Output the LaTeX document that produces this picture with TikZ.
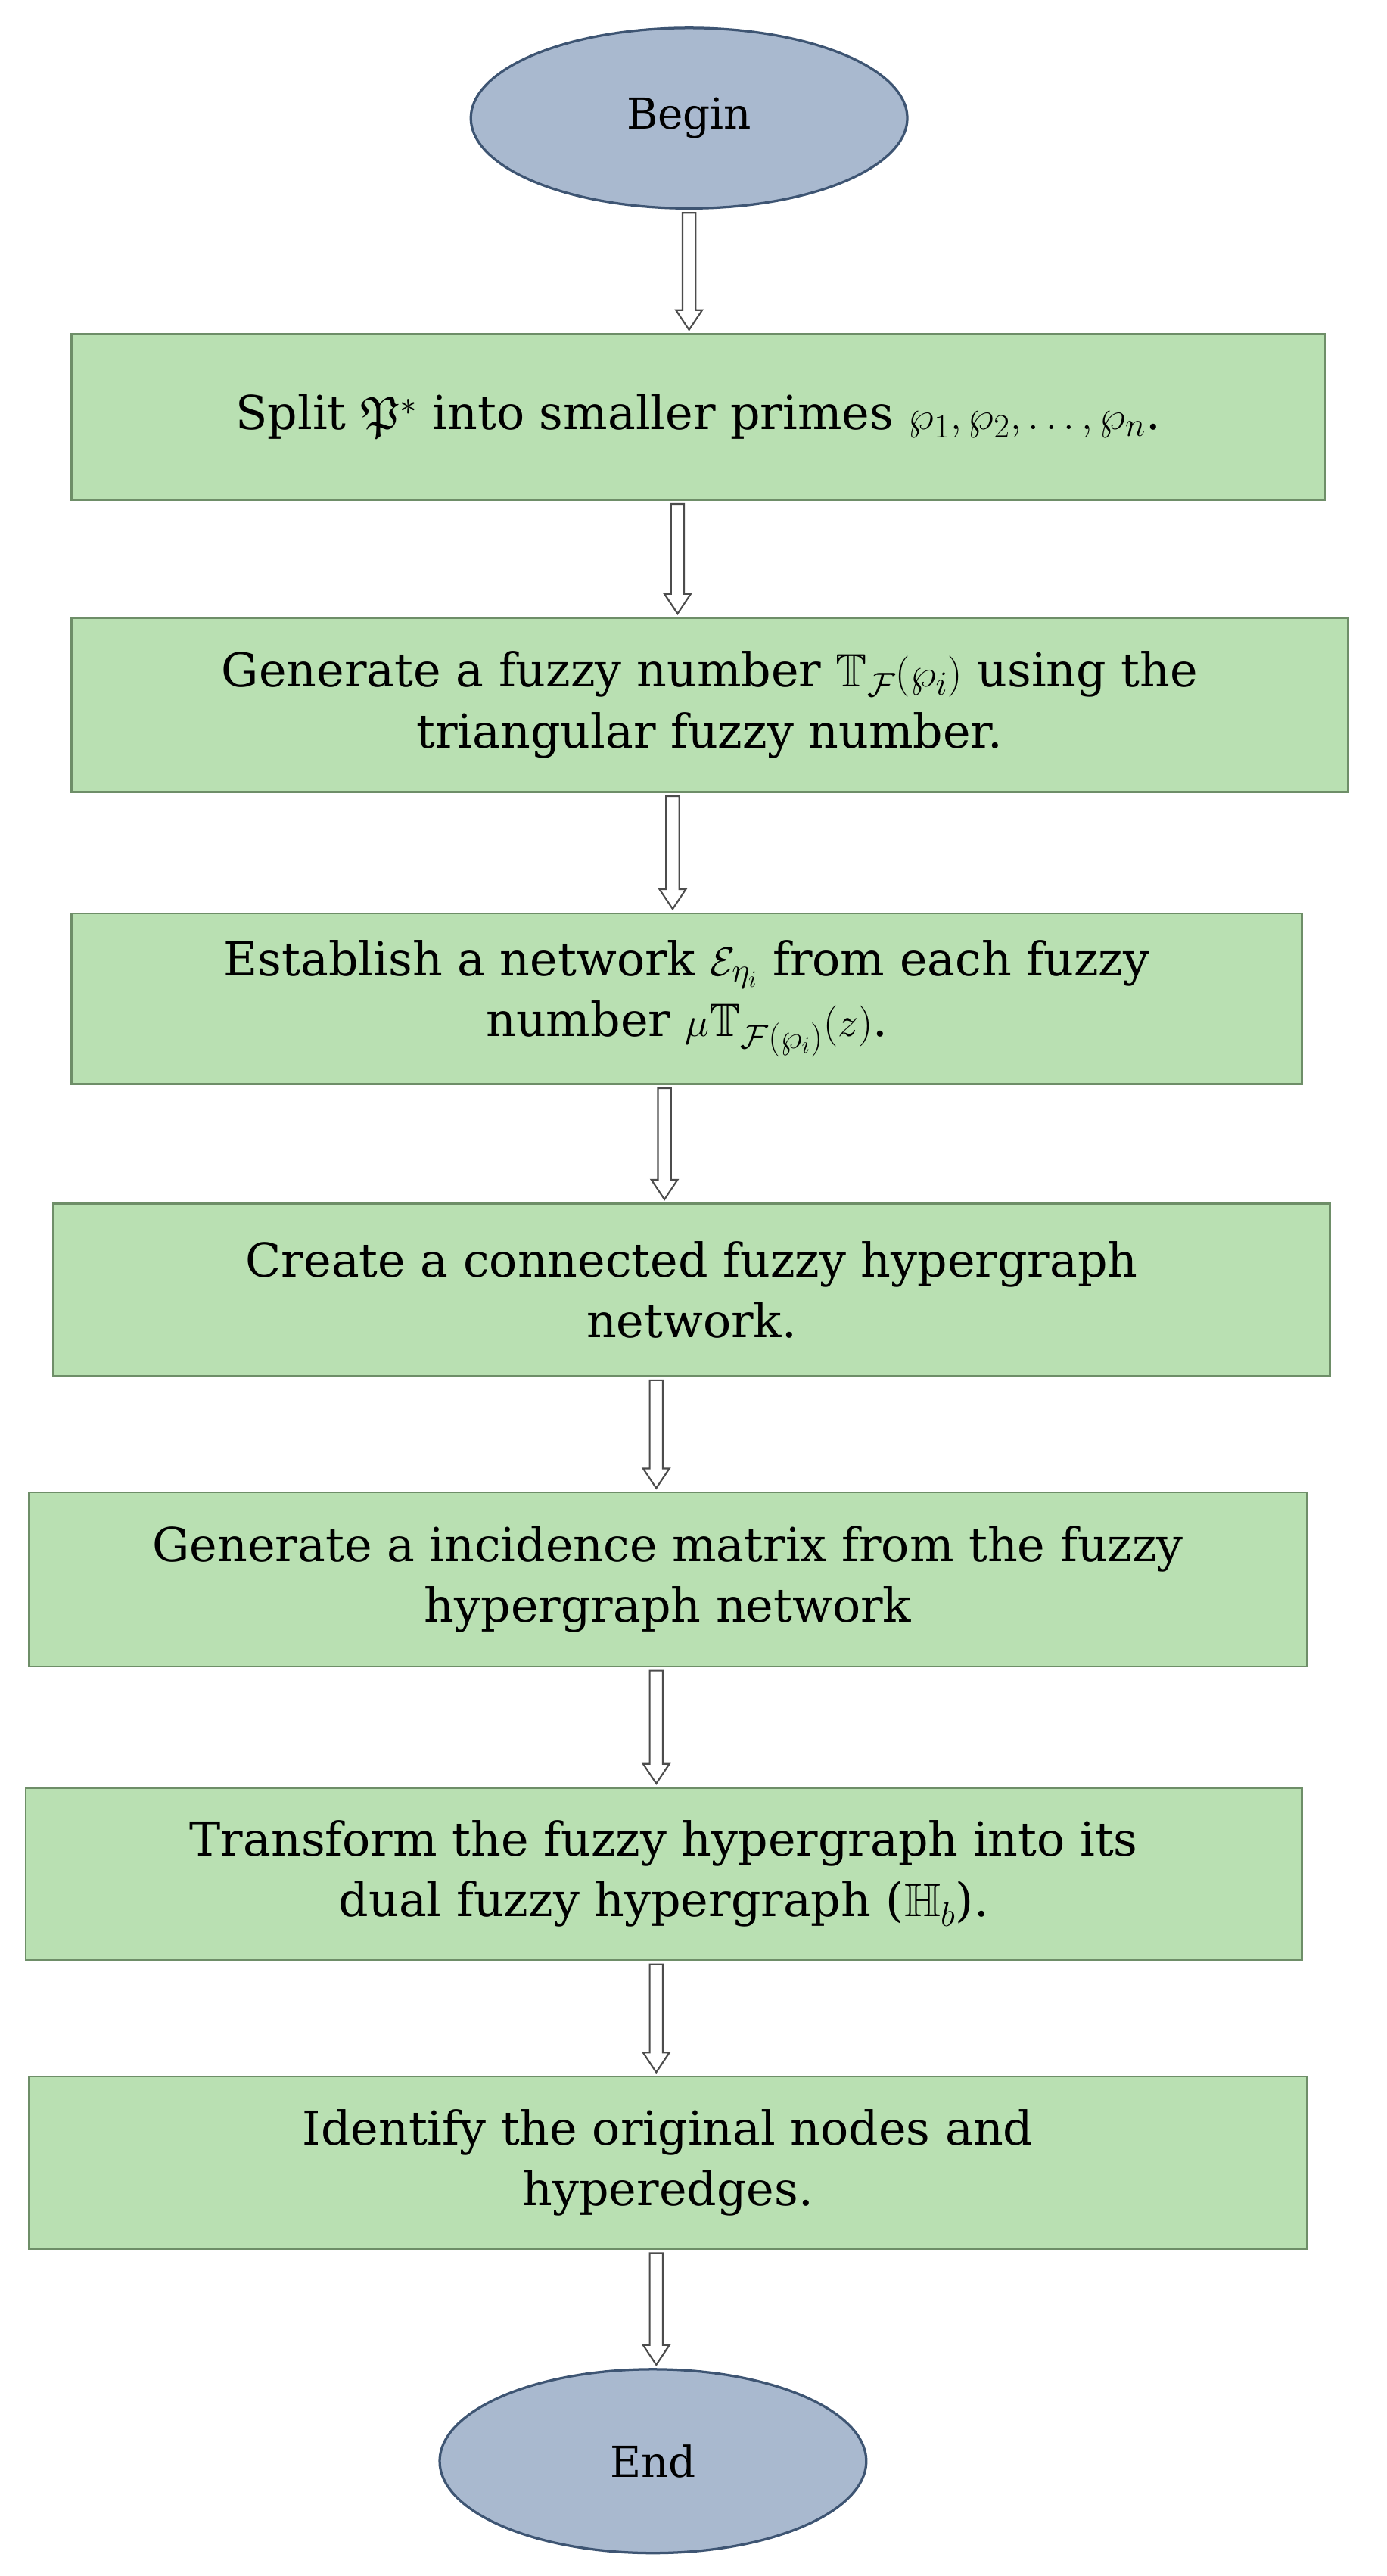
\documentclass[tikz,border=0pt]{standalone}
\usepackage{amssymb}
\usepackage{fontspec}
\setmainfont{DejaVu Serif}
\usetikzlibrary{calc,shapes.geometric}
\definecolor{boxg}{HTML}{B9E0B2}
\definecolor{boxb}{HTML}{6E8E68}
\definecolor{ellf}{HTML}{A9B9CF}
\definecolor{elld}{HTML}{3E5573}
\tikzset{
  stepbox/.style={draw=boxb, line width=1.2pt, fill=boxg, align=center, font=\fontsize{28.5}{37}\selectfont, inner sep=0pt, anchor=north west},
  termnode/.style={ellipse, draw=elld, line width=1.5pt, fill=ellf, font=\fontsize{26}{30}\selectfont}
}
\newcommand\harrow[3]{%
  \path let \p1=(#1.south), \p2=(#2.north) in
    [draw=black!70, fill=white, line width=1pt]
    (#3-4,\y1-2) -- (#3+4,\y1-2) -- (#3+4,\y2+14) -- (#3+8,\y2+14) -- (#3,\y2+2)
    -- (#3-8,\y2+14) -- (#3-4,\y2+14) -- cycle;}
\begin{document}
\begin{tikzpicture}[x=1pt,y=1pt]
\useasboundingbox[fill=white] (0,0) rectangle (845,-1570);
\node[termnode, minimum width=266pt, minimum height=110pt] (begin) at (420,-72) {Begin};
\node[stepbox, minimum width=764pt, minimum height=101pt] (b1) at (43,-203) {Split $\mathfrak{P}^{*}$ into smaller primes $\wp_1,\wp_2,\dots,\wp_n$.};
\node[stepbox, minimum width=778pt, minimum height=106pt] (b2) at (43,-376) {Generate a fuzzy number $\mathbb{T}_{\mathcal{F}}(\wp_i)$ using the\\ triangular fuzzy number.};
\node[stepbox, minimum width=750pt, minimum height=104pt] (b3) at (43,-556) {Establish a network $\mathcal{E}_{\eta_i}$ from each fuzzy\\ number $\mu\mathbb{T}_{\mathcal{F}(\wp_i)}(z)$.};
\node[stepbox, minimum width=778pt, minimum height=105pt] (b4) at (32,-733) {Create a connected fuzzy hypergraph\\ network.};
\node[stepbox, minimum width=779pt, minimum height=106pt] (b5) at (17,-909) {Generate a incidence matrix from the fuzzy\\ hypergraph network};
\node[stepbox, minimum width=778pt, minimum height=105pt] (b6) at (15,-1089) {Transform the fuzzy hypergraph into its\\ dual fuzzy hypergraph ($\mathbb{H}_{b}$).};
\node[stepbox, minimum width=779pt, minimum height=105pt] (b7) at (17,-1265) {Identify the original nodes and\\ hyperedges.};
\node[termnode, minimum width=260pt, minimum height=112pt] (end) at (398,-1500) {End};
\harrow{begin}{b1}{420}
\harrow{b1}{b2}{413}
\harrow{b2}{b3}{410}
\harrow{b3}{b4}{405}
\harrow{b4}{b5}{400}
\harrow{b5}{b6}{400}
\harrow{b6}{b7}{400}
\harrow{b7}{end}{400}
\end{tikzpicture}
\end{document}
